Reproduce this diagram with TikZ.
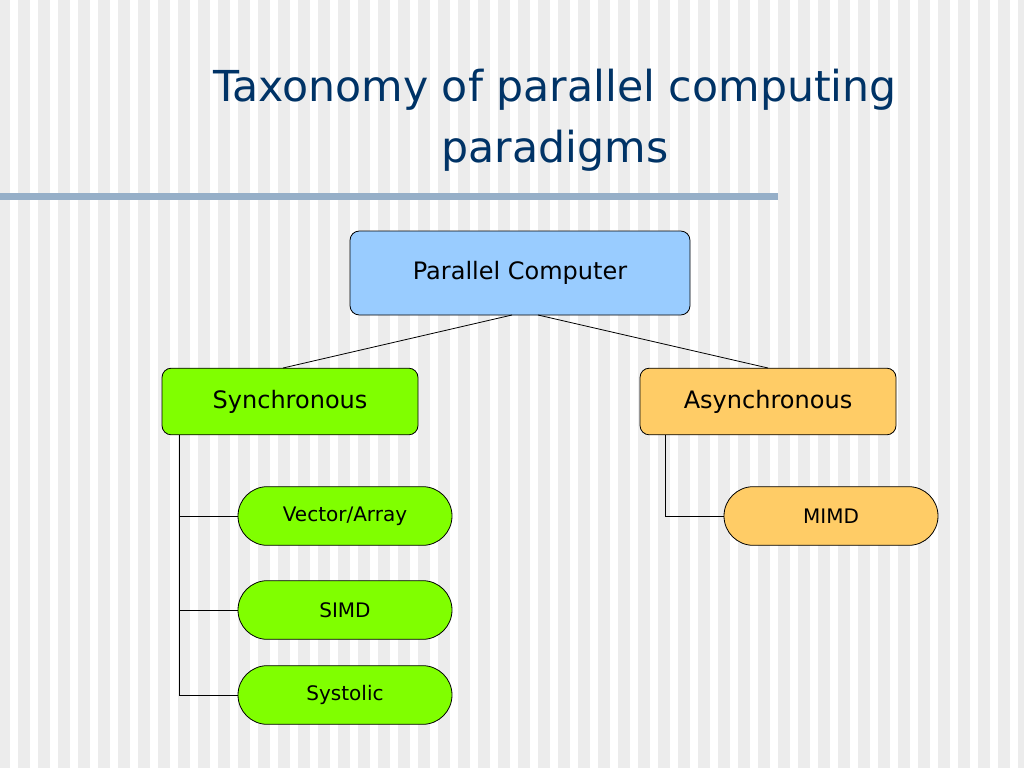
\documentclass[tikz,border=0pt]{standalone}
\usepackage{fontspec}
\setmainfont{DejaVu Sans}
\usetikzlibrary{shapes.misc}
\definecolor{titleblue}{RGB}{0,51,102}
\definecolor{rulecol}{RGB}{150,175,200}
\definecolor{pblue}{RGB}{153,204,255}
\definecolor{pgreen}{RGB}{128,255,0}
\definecolor{porange}{RGB}{255,204,102}
\definecolor{bggray}{RGB}{236,236,236}
\tikzset{
  bigbox/.style={draw=black, line width=0.6pt, rounded corners=7pt, font=\fontsize{18}{20}\selectfont, inner sep=0pt},
  pill/.style={draw=black, line width=0.6pt, rounded rectangle, minimum width=160.5pt, minimum height=44pt, font=\fontsize{15}{17}\selectfont, inner sep=0pt},
  conn/.style={draw=black, line width=0.6pt}
}
\begin{document}
\begin{tikzpicture}[x=0.75pt,y=-0.75pt]
\useasboundingbox (0,0) rectangle (1024,768);
\fill[bggray] (0,0) rectangle (1024,768);
\foreach \i in {0,...,50} {
  \fill[white] (\i*20+10,0) rectangle (\i*20+18,768);
}
\node[font=\fontsize{32}{46}\selectfont, text=titleblue, align=center] (title) at (555,120) {Taxonomy of parallel computing\\paradigms};
\fill[rulecol] (0,193) rectangle (778,200);
\node[bigbox, fill=pblue, minimum width=255pt, minimum height=63pt] (pc) at (520,273) {Parallel Computer};
\node[bigbox, fill=pgreen, minimum width=192pt, minimum height=50pt] (sync) at (290,401.5) {Synchronous};
\node[bigbox, fill=porange, minimum width=192pt, minimum height=50pt] (async) at (768,401.5) {Asynchronous};
\node[pill, fill=pgreen] (va) at (345,516) {Vector/Array};
\node[pill, fill=pgreen] (simd) at (345,610) {SIMD};
\node[pill, fill=pgreen] (sys) at (345,695) {Systolic};
\node[pill, fill=porange] (mimd) at (831,516) {MIMD};
\coordinate (pcl) at (512,315);
\coordinate (pcr) at (538,315);
\coordinate (sl) at (179,435);
\coordinate (al) at (665,435);
\draw[conn] (pcl) -- (283,368);
\draw[conn] (pcr) -- (768,368);
\draw[conn] (sl) |- (sys.west);
\draw[conn] (sl |- va.west) -- (va.west);
\draw[conn] (sl |- simd.west) -- (simd.west);
\draw[conn] (al) |- (mimd.west);
\end{tikzpicture}
\end{document}
